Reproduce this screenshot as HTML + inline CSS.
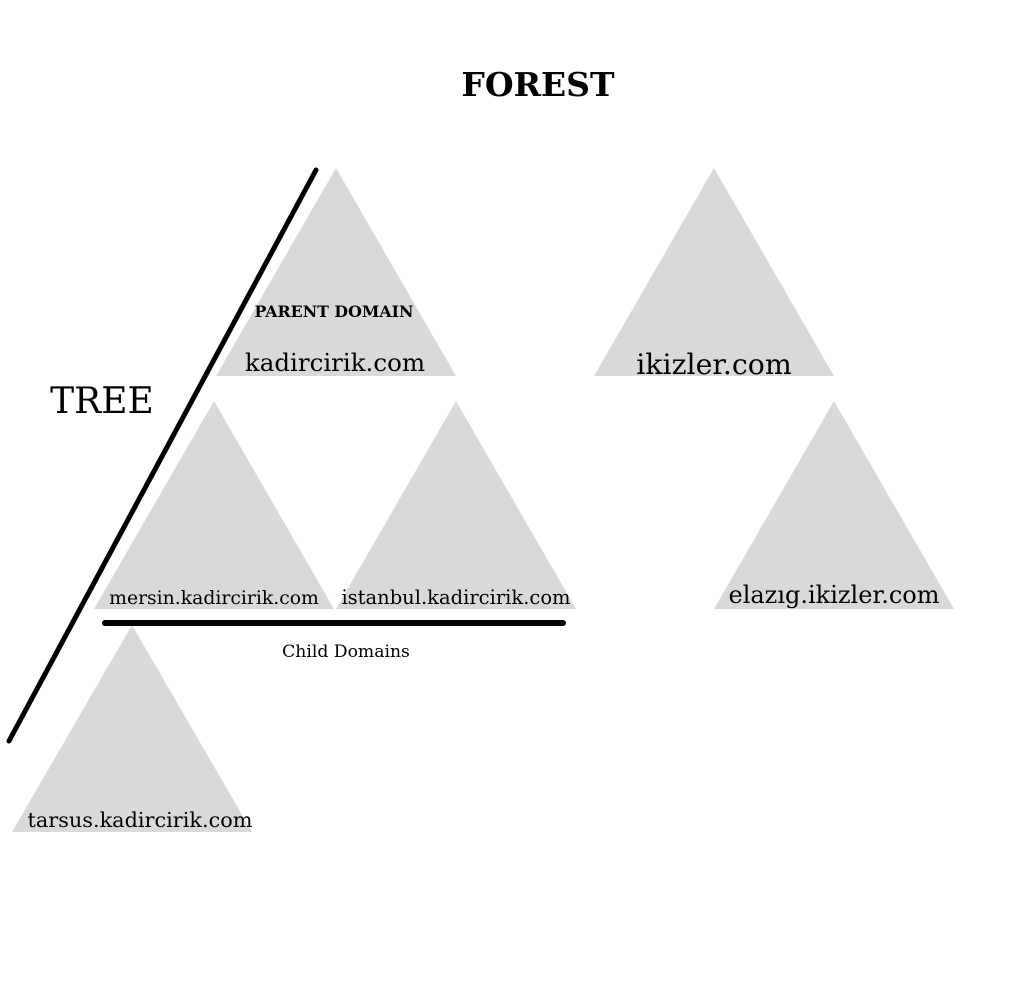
<!DOCTYPE html>
<html><head><meta charset="utf-8"><style>html,body{margin:0;padding:0;background:#fff}svg{display:block}</style></head>
<body>
<svg width="1024" height="994" viewBox="0 0 1024 994" xmlns="http://www.w3.org/2000/svg" font-family="'DejaVu Serif','Liberation Serif',serif">
<g fill="#d9d9d9">
<polygon points="336,168 216,376 456,376"/>
<polygon points="714,168 594,376 834,376"/>
<polygon points="214,401 94,609 334,609"/>
<polygon points="456,401 336,609 576,609"/>
<polygon points="834,401 714,609 954,609"/>
<polygon points="132,625 12,832 252,832"/>
</g>
<line x1="316" y1="170" x2="9" y2="741" stroke="#000" stroke-width="5" stroke-linecap="round"/>
<line x1="105" y1="623" x2="563" y2="623" stroke="#000" stroke-width="6" stroke-linecap="round"/>
<g fill="#000" text-anchor="middle">
<text x="538" y="96" font-size="33" font-weight="bold">FOREST</text>
<text x="102" y="413" font-size="36">TREE</text>
<text x="334" y="317" font-size="15.8" font-weight="bold">PARENT DOMAIN</text>
<text x="335" y="371" font-size="24.5">kadircirik.com</text>
<text x="714" y="374" font-size="28.4">ikizler.com</text>
<text x="214" y="604" font-size="18.8">mersin.kadircirik.com</text>
<text x="456" y="604" font-size="19.5">istanbul.kadircirik.com</text>
<text x="834" y="603" font-size="24">elazıg.ikizler.com</text>
<text x="346" y="657" font-size="17.2">Child Domains</text>
<text x="140" y="827" font-size="20.8">tarsus.kadircirik.com</text>
</g>
</svg>
</body></html>
